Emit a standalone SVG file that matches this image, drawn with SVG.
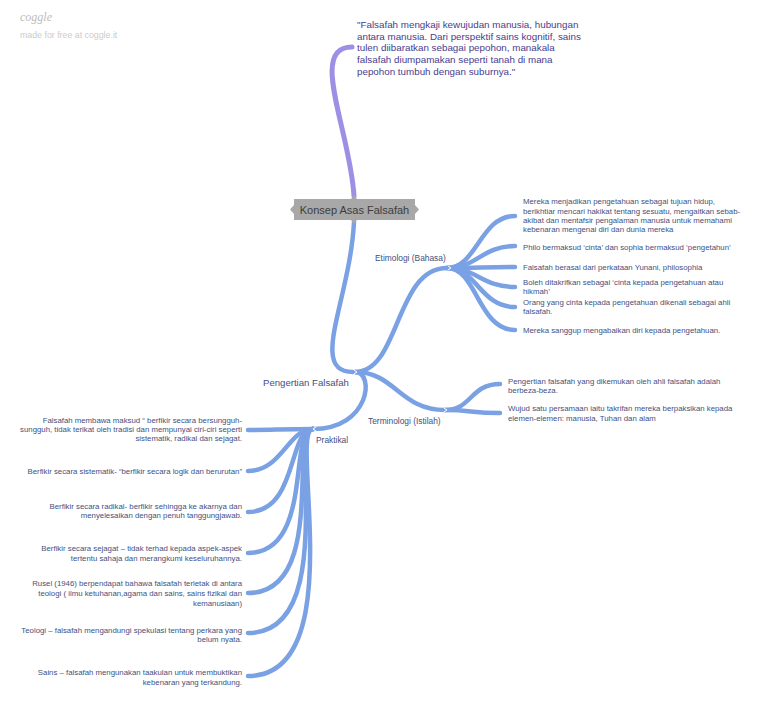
<svg xmlns="http://www.w3.org/2000/svg" width="768" height="709" viewBox="0 0 768 709">
<style>
.br{fill:none;stroke:#79a1e4;stroke-width:4.5;stroke-linecap:round}
.pu{fill:none;stroke:#9c8fe4;stroke-width:5;stroke-linecap:round}
.t{font-family:"Liberation Sans",Arial,sans-serif;fill:#3f507e}
.leaf{font-size:7.8px}
.lbl{font-size:8.4px}
.r{text-anchor:end}
.chev{fill:none;stroke:#ffffff;stroke-width:1;stroke-linecap:round;stroke-linejoin:round}
</style>
<rect width="768" height="709" fill="#ffffff"/>
<g id="logo">
<text x="20" y="21" font-family="Liberation Serif,serif" font-style="italic" font-size="12" fill="#bdbdbd">coggle</text>
<text x="20" y="38" font-family="Liberation Sans,Arial,sans-serif" font-size="8.8" fill="#cccccc">made for free at coggle.it</text>
</g>
<g id="connectors">
<path class="pu" d="M354 196 C350 130,308 47,352 47"/>
<path class="br" d="M354 222 C350 300,308 372,353 372"/>
<path class="br" d="M355 372 C400 372,395 268,447 268"/>
<path class="br" d="M355 372 C395 372,400 410,445 410"/>
<path class="br" d="M355 372 C375 372,370 429,313 429"/>
<path class="br" d="M447 268 C477 268,480 216,515 216"/>
<path class="br" d="M447 268 C477 268,482 246,515 246"/>
<path class="br" d="M447 268 C477 268,485 267,515 267"/>
<path class="br" d="M447 268 C477 268,482 287,515 287"/>
<path class="br" d="M447 268 C477 268,480 307,515 307"/>
<path class="br" d="M447 268 C477 268,478 330,515 330"/>
<path class="br" d="M445 410 C472 410,470 384,500 384"/>
<path class="br" d="M445 410 C472 410,470 413,500 413"/>
<path class="br" d="M313 429 C288 429,268 430,248 430"/>
<path class="br" d="M313 429 C288 429,282 471,248 471"/>
<path class="br" d="M313 429 C288 429,298 512,248 512"/>
<path class="br" d="M313 429 C288 429,314 553,248 553"/>
<path class="br" d="M313 429 C288 429,328 593,248 593"/>
<path class="br" d="M313 429 C288 429,340 633,248 633"/>
<path class="br" d="M313 429 C288 429,352 676,248 676"/>
<polyline class="chev" points="354,374 357,372 354,370"/>
<polyline class="chev" points="316,431 313,429 316,427"/>
<polyline class="chev" points="444,412 447,410 444,408"/>
<polyline class="chev" points="448,270 451,268 448,266"/>
</g>
<g id="root">
<polygon points="294,199 415,199 415,205 419,209.5 415,214 415,220 294,220 294,214 290,209.5 294,205" fill="#a8a8a8"/>
<polygon points="351,199 354,195 357,199" fill="#a8a8a8"/>
<polygon points="351,220 354,224 357,220" fill="#a8a8a8"/>
<text x="354.5" y="213.5" text-anchor="middle" font-family="Liberation Sans,Arial,sans-serif" font-size="11" fill="#3d3d3d">Konsep Asas Falsafah</text>
</g>
<g id="quote">
<text class="t" x="357" y="28" font-size="9.8" style="fill:#483c8e">
<tspan x="357" y="28">"Falsafah mengkaji kewujudan manusia, hubungan</tspan>
<tspan x="357" y="39.7">antara manusia. Dari perspektif sains kognitif, sains</tspan>
<tspan x="357" y="51.3">tulen diibaratkan sebagai pepohon, manakala</tspan>
<tspan x="357" y="63">falsafah diumpamakan seperti tanah di mana</tspan>
<tspan x="357" y="74.7">pepohon tumbuh dengan suburnya."</tspan>
</text>
</g>
<g id="pengertian">
<text class="t" x="263" y="385.5" font-size="9.6">Pengertian Falsafah</text>
</g>
<g id="etimologi">
<text class="t lbl" x="375" y="261">Etimologi (Bahasa)</text>
</g>
<g id="ety-1"><text class="t leaf"><tspan x="523" y="204">Mereka menjadikan pengetahuan sebagai tujuan hidup,</tspan><tspan x="523" y="213.5">berikhtiar mencari hakikat tentang sesuatu, mengaitkan sebab-</tspan><tspan x="523" y="222.7">akibat dan mentafsir pengalaman manusia untuk memahami</tspan><tspan x="523" y="232">kebenaran mengenai diri dan dunia mereka</tspan></text></g>
<g id="ety-2"><text class="t leaf" x="523" y="249.5">Philo bermaksud ‘cinta’ dan sophia bermaksud ‘pengetahun’</text></g>
<g id="ety-3"><text class="t leaf" x="523" y="270">Falsafah berasal dari perkataan Yunani, philosophia</text></g>
<g id="ety-4"><text class="t leaf"><tspan x="523" y="285">Boleh ditakrifkan sebagai ‘cinta kepada pengetahuan atau</tspan><tspan x="523" y="294">hikmah’</tspan></text></g>
<g id="ety-5"><text class="t leaf"><tspan x="523" y="305">Orang yang cinta kepada pengetahuan dikenali sebagai ahli</tspan><tspan x="523" y="314">falsafah.</tspan></text></g>
<g id="ety-6"><text class="t leaf" x="523" y="333">Mereka sanggup mengabaikan diri kepada pengetahuan.</text></g>
<g id="terminologi">
<text class="t lbl" x="368" y="424">Terminologi (Istilah)</text>
</g>
<g id="ter-1"><text class="t leaf"><tspan x="508" y="383.5">Pengertian falsafah yang dikemukan oleh ahli falsafah adalah</tspan><tspan x="508" y="393">berbeza-beza.</tspan></text></g>
<g id="ter-2"><text class="t leaf"><tspan x="508" y="411">Wujud satu persamaan iaitu takrifan mereka berpaksikan kepada</tspan><tspan x="508" y="420.5">elemen-elemen: manusia, Tuhan dan alam</tspan></text></g>
<g id="praktikal">
<text class="t lbl" x="316" y="443">Praktikal</text>
</g>
<g id="pra-1"><text class="t leaf r"><tspan x="242" y="423">Falsafah membawa maksud “ berfikir secara bersungguh-</tspan><tspan x="242" y="432">sungguh, tidak terikat oleh tradisi dan mempunyai ciri-ciri seperti</tspan><tspan x="242" y="441.3">sistematik, radikal dan sejagat.</tspan></text></g>
<g id="pra-2"><text class="t leaf r" x="242" y="473.5">Berfikir secara sistematik- “berfikir secara logik dan berurutan”</text></g>
<g id="pra-3"><text class="t leaf r"><tspan x="242" y="508.5">Berfikir secara radikal- berfikir sehingga ke akarnya dan</tspan><tspan x="242" y="518">menyelesaikan dengan penuh tanggungjawab.</tspan></text></g>
<g id="pra-4"><text class="t leaf r"><tspan x="242" y="551">Berfikir secara sejagat – tidak terhad kepada aspek-aspek</tspan><tspan x="242" y="560.5">tertentu sahaja dan merangkumi keseluruhannya.</tspan></text></g>
<g id="pra-5"><text class="t leaf r"><tspan x="242" y="586">Rusel (1946) berpendapat bahawa falsafah terletak di antara</tspan><tspan x="242" y="596">teologi ( ilmu ketuhanan,agama dan sains, sains fizikal dan</tspan><tspan x="242" y="606">kemanusiaan)</tspan></text></g>
<g id="pra-6"><text class="t leaf r"><tspan x="242" y="633">Teologi – falsafah mengandungi spekulasi tentang perkara yang</tspan><tspan x="242" y="642.3">belum nyata.</tspan></text></g>
<g id="pra-7"><text class="t leaf r"><tspan x="242" y="674.5">Sains – falsafah mengunakan taakulan untuk membuktikan</tspan><tspan x="242" y="684.5">kebenaran yang terkandung.</tspan></text></g>
</svg>
